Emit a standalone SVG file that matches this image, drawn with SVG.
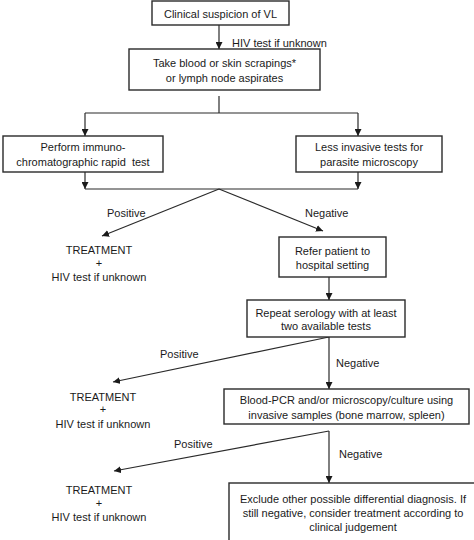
<svg xmlns="http://www.w3.org/2000/svg" width="474" height="540" viewBox="0 0 474 540">
<defs>
<marker id="ah" viewBox="0 0 10 10" refX="10" refY="5" markerWidth="7" markerHeight="7" markerUnits="userSpaceOnUse" orient="auto">
<path d="M0,0 L10,5 L0,10 z" fill="#1a1a1a"/>
</marker>
<style>
rect{fill:#fff;stroke:#2a2a2a;stroke-width:1.4}
text{font-family:"Liberation Sans",Arial,sans-serif;font-size:11px;fill:#1a1a1a}
.c{text-anchor:middle}
.pre{white-space:pre}
line,polyline{stroke:#2a2a2a;stroke-width:1.2;fill:none}
.a{marker-end:url(#ah)}
</style>
</defs>
<rect x="0" y="0" width="474" height="540" style="fill:#fff;stroke:none"/>
<g id="connectors">
<line class="a" x1="219" y1="25" x2="219" y2="49"/>
<text x="232" y="46.5">HIV test if unknown</text>
<line x1="219" y1="96" x2="219" y2="113"/>
<line x1="85" y1="113" x2="358" y2="113"/>
<line class="a" x1="85" y1="113" x2="85" y2="136"/>
<line class="a" x1="358" y1="113" x2="358" y2="136"/>
<line class="a" x1="85" y1="172" x2="85" y2="189"/>
<line class="a" x1="358" y1="172" x2="358" y2="189"/>
<line x1="85" y1="189" x2="358" y2="189"/>
<line class="a" x1="219" y1="189" x2="102" y2="236"/>
<line class="a" x1="219" y1="189" x2="323" y2="231"/>
<text x="107" y="217">Positive</text>
<text x="305" y="217">Negative</text>
<line class="a" x1="329" y1="277" x2="329" y2="300"/>
<line class="a" x1="329" y1="337" x2="113" y2="382"/>
<line class="a" x1="329" y1="337" x2="329" y2="389"/>
<text x="160" y="358">Positive</text>
<text x="336" y="367">Negative</text>
<line class="a" x1="329" y1="431" x2="114" y2="471"/>
<line class="a" x1="329" y1="431" x2="329" y2="483"/>
<text x="174" y="448">Positive</text>
<text x="339" y="458">Negative</text>
</g>
<g id="n1"><rect x="152" y="1" width="137" height="24"/><text class="c" x="220.5" y="17.5">Clinical suspicion of VL</text></g>
<g id="n2"><rect x="129" y="49" width="191" height="41"/><text class="c" x="224.5" y="67">Take blood or skin scrapings*</text><text class="c" x="224.5" y="81.5">or lymph node aspirates</text></g>
<g id="n3"><rect x="3" y="136" width="160" height="36"/><text class="c" x="83" y="151">Perform immuno-</text><text class="c pre" x="83" y="166">chromatographic rapid  test</text></g>
<g id="n4"><rect x="296" y="136" width="146" height="36"/><text class="c" x="369" y="151">Less invasive tests for</text><text class="c" x="369" y="166">parasite microscopy</text></g>
<g id="t1"><text class="c" x="99" y="254">TREATMENT</text><text class="c" x="99" y="267">+</text><text class="c" x="99" y="281">HIV test if unknown</text></g>
<g id="n5"><rect x="279" y="237" width="107" height="40"/><text class="c" x="332.5" y="255">Refer patient to</text><text class="c" x="332.5" y="269">hospital setting</text></g>
<g id="n6"><rect x="247" y="300" width="158" height="37"/><text class="c" x="326" y="317">Repeat serology with at least</text><text class="c" x="326" y="330">two available tests</text></g>
<g id="n7"><rect x="224" y="389" width="245" height="35"/><text class="c" x="346.5" y="404">Blood-PCR and/or microscopy/culture using</text><text class="c" x="346.5" y="419">invasive samples (bone marrow, spleen)</text></g>
<g id="t2"><text class="c" x="103" y="401">TREATMENT</text><text class="c" x="103" y="413">+</text><text class="c" x="103" y="428">HIV test if unknown</text></g>
<g id="n8"><rect x="229" y="483" width="260" height="70"/><text class="c" x="353" y="503">Exclude other possible differential diagnosis. If</text><text class="c" x="353" y="517">still negative, consider treatment according to</text><text class="c" x="353" y="530.5">clinical judgement</text></g>
<g id="t3"><text class="c" x="99" y="494">TREATMENT</text><text class="c" x="99" y="507">+</text><text class="c" x="99" y="521">HIV test if unknown</text></g>
</svg>
